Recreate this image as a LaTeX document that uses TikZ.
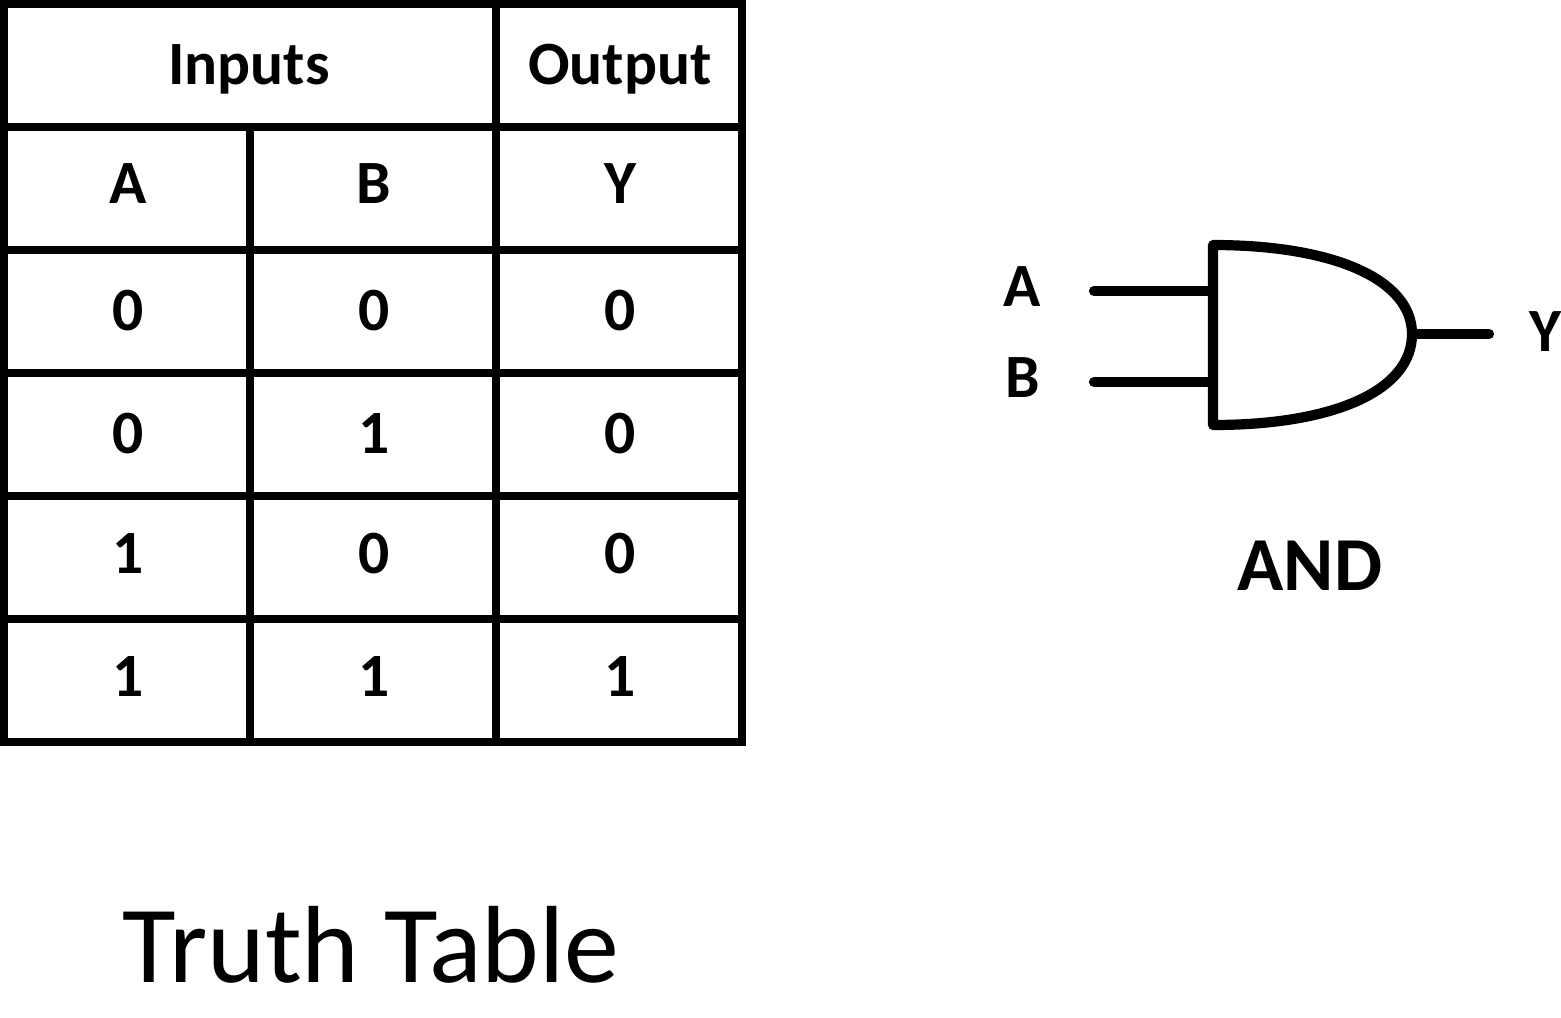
\documentclass[tikz,border=0pt]{standalone}
\usepackage{fontspec}
\setmainfont{Carlito}
\tikzset{
    grid line/.style={line width=2.2pt},
    gate line/.style={line width=2.9pt,line cap=round,line join=round},
    cell/.style={anchor=base,inner sep=0pt,font=\fontsize{17.5}{20}\selectfont\bfseries},
    big label/.style={anchor=base,inner sep=0pt,font=\fontsize{21.7}{26}\selectfont\bfseries},
    title label/.style={anchor=base,inner sep=0pt,font=\fontsize{31.2}{36}\selectfont}
}

\begin{document}
\begin{tikzpicture}[x=0.01cm,y=-0.01cm]
    \useasboundingbox (0,0) rectangle (1561,1017);
    % table
    \draw[grid line](4,4)rectangle(742,742);
    \draw[grid line](4,127)--(742,127);
    \draw[grid line](4,250)--(742,250);
    \draw[grid line](4,373)--(742,373);
    \draw[grid line](4,496)--(742,496);
    \draw[grid line](4,619)--(742,619);
    \draw[grid line](250,127)--(250,742);
    \draw[grid line](496,4)--(496,742);
    \node [cell] (inputs) at (249,84){Inputs};
    \node [cell] (output) at (620,84){Output};
    \node [cell] (headA) at (128,203){A};
    \node [cell] (headB) at (374,203){B};
    \node [cell] (headY) at (620,203){Y};
    \node [cell] (a1) at (128,330){0};
    \node [cell] (b1) at (374,330){0};
    \node [cell] (y1) at (620,330){0};
    \node [cell] (a2) at (128,453){0};
    \node [cell] (b2) at (374,453){1};
    \node [cell] (y2) at (620,453){0};
    \node [cell] (a3) at (128,573){1};
    \node [cell] (b3) at (374,573){0};
    \node [cell] (y3) at (620,573){0};
    \node [cell] (a4) at (128,696){1};
    \node [cell] (b4) at (374,696){1};
    \node [cell] (y4) at (620,696){1};
    \node [title label] (title) at (371,982){Truth Table};
    % gate
    \coordinate (gateTop) at (1213,245);
    \coordinate (gateBottom) at (1213,425);
    \coordinate (gateOut) at (1412,334);
    \coordinate (pinA) at (1213,291);
    \coordinate (pinB) at (1213,382);
    \coordinate (endA) at (1094,291);
    \coordinate (endB) at (1094,382);
    \coordinate (endY) at (1489,334);
    \draw[gate line](gateBottom)--(gateTop)
        .. controls (1335,245) and (1412,280) .. (gateOut)
        .. controls (1412,390) and (1335,425) .. (gateBottom);
    \draw[gate line](endA)--(pinA);
    \draw[gate line](endB)--(pinB);
    \draw[gate line](gateOut)--(endY);
    \node [cell] (labelA) at (1022,306){A};
    \node [cell] (labelB) at (1023,397){B};
    \node [cell] (labelY) at (1545,351){Y};
    \node [big label] (gateName) at (1310,590){AND};
\end{tikzpicture}
\end{document}
